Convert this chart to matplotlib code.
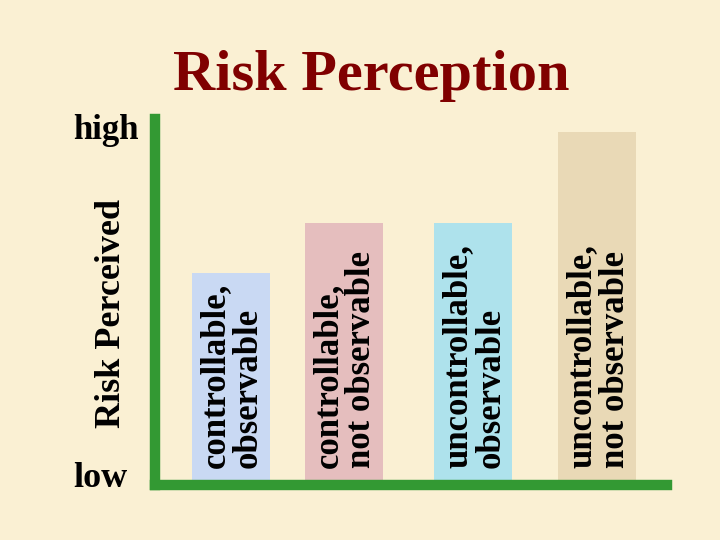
import matplotlib
matplotlib.use('Agg')

import matplotlib.pyplot as plt

# chart data
categories = ["controllable,\nobservable",
              "controllable,\nnot observable",
              "uncontrollable,\nobservable",
              "uncontrollable,\nnot observable"]
risk_values = [5.8, 7.15, 7.15, 9.65]
bar_colors = ['#C9D9F3', '#E5BEBE', '#AEE2EC', '#E9D9B6']

# layout (bar centres in bar-width units)
bar_pos = [0.97, 2.42, 4.08, 5.67]

bg = '#FAF0D3'
green = '#339933'
serif = ['Liberation Serif', 'DejaVu Serif']

fig = plt.figure(figsize=(7.2, 5.4), dpi=100)
fig.patch.set_facecolor(bg)

# axes: left spine at x=155px, bottom spine at y=485px
ax = fig.add_axes([155 / 720, 55 / 540, 512 / 720, 366 / 540])
ax.set_facecolor(bg)
ax.bar(bar_pos, risk_values, width=1.0, color=bar_colors, align='center', zorder=1)
ax.set_xlim(0, 512 / 78)
ax.set_ylim(0, 10)

for side in ['top', 'right']:
	ax.spines[side].set_visible(False)
for side in ['left', 'bottom']:
	ax.spines[side].set_color(green)
	ax.spines[side].set_linewidth(7.5)
	ax.spines[side].set_capstyle('projecting')
ax.set_xticks([])
ax.set_yticks([])

for x, lab in zip(bar_pos, categories):
	ax.annotate(lab, (x, 0), xytext=(1, 12), textcoords='offset points',
				rotation=90, ha='center', va='bottom', multialignment='left',
				fontsize=25, fontweight='bold', family=serif, color='black',
				linespacing=1.0)

fig.text(371 / 720, 1 - 76 / 540, "Risk Perception", ha='center', va='center',
		 fontsize=42, fontweight='bold', family=serif, color='#800000')
fig.text(73 / 720, 1 - 139 / 540, "high", ha='left', va='baseline',
		 fontsize=25, fontweight='bold', family=serif)
fig.text(73 / 720, 1 - 487 / 540, "low", ha='left', va='baseline',
		 fontsize=26, fontweight='bold', family=serif)
fig.text(111 / 720, 1 - 313 / 540, "Risk Perceived", ha='center', va='center',
		 rotation=90, fontsize=26, fontweight='bold', family=serif)

fig.savefig('out.png', dpi=100, facecolor=bg)
